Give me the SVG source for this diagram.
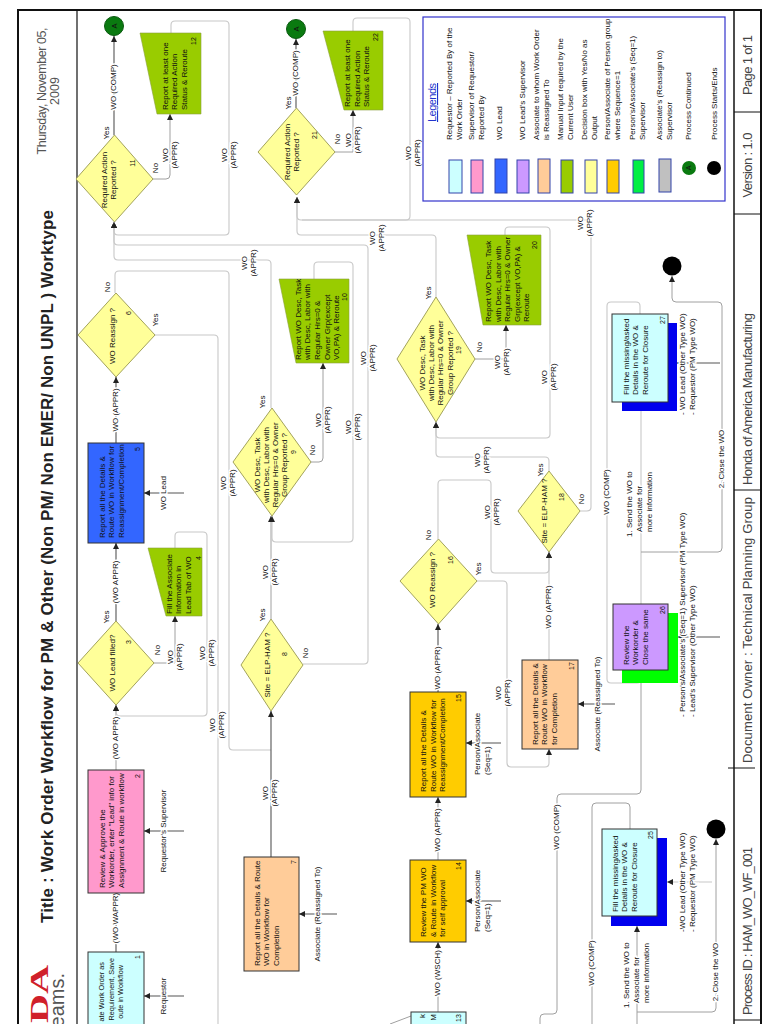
<svg xmlns="http://www.w3.org/2000/svg" width="768" height="1024" viewBox="0 0 768 1024">
<style>
text{font-family:"Liberation Sans",Arial,sans-serif;fill:#111}
.t{font-size:8px}
.t7{font-size:7.300px}
.m{text-anchor:middle}
.e{text-anchor:end}
.n{font-size:7px;text-anchor:middle}
.l{font-size:8px;text-anchor:middle;paint-order:stroke;stroke:#fff;stroke-width:3px}
.ls{font-size:8px;paint-order:stroke;stroke:#fff;stroke-width:3px}
.f{font-size:13px;fill:#444;text-anchor:middle}
.box{stroke:#333;stroke-width:1}
.dia{fill:#ffff99;stroke:#a3a35c;stroke-width:1}
.inp{fill:#99cc00;stroke:#8aa040;stroke-width:.6}
.c1,.c2,.c3{fill:none}
.c1{stroke:#555;stroke-width:1.1}
.c2{stroke:#a0a0a0;stroke-width:1}
.c3{stroke:#c8c8c8;stroke-width:1.1}
.ar{marker-end:url(#a)}
.sw{stroke:#3344aa;stroke-width:1}
</style>
<defs>
<marker id="a" markerUnits="userSpaceOnUse" markerWidth="6" markerHeight="6" refX="6" refY="3" orient="auto"><path d="M0 0L6 3L0 6Z" fill="#222"/></marker>
</defs>
<rect width="768" height="1024" fill="#fff"/>
<g id="frame" fill="none" stroke="#111">
<path d="M18 1024V10H761V1024" stroke-width="2"/>
<path d="M77 10V1024" stroke-width="1.2"/>
<path d="M734 10V1024" stroke-width="1.5"/>
<path d="M734 112H761M734 214H761M734 490H761M728 768H755M734 1020H761" stroke-width="1"/>
</g>
<g id="title">
<text x="53" y="923" transform="rotate(-90 53 923)" font-size="17" font-weight="bold" textLength="713" lengthAdjust="spacing" style="fill:#222">Title : Work Order Workflow for PM &amp; Other (Non PM/ Non EMER/ Non UNPL ) Worktype</text>
<text x="46" y="91" transform="rotate(-90 46 91)" class="m" font-size="12.5" style="fill:#555"><tspan x="46" textLength="127">Thursday, November 05,</tspan><tspan x="46" dy="13">2009</tspan></text>
<text x="48" y="1023" transform="rotate(-90 48 1023)" font-size="26" font-weight="bold" textLength="58" lengthAdjust="spacingAndGlyphs" style="fill:#d0202a;font-family:'Liberation Serif',serif">DA</text>
<text class="e" x="64" y="973" transform="rotate(-90 64 973)" font-size="20" style="fill:#555">eams.</text>
</g>
<g id="footer">
<text class="f" x="752" y="65" transform="rotate(-90 752 65)" textLength="60">Page 1 of 1</text>
<text class="f" x="752" y="165" transform="rotate(-90 752 165)" textLength="65">Version : 1.0</text>
<text class="f" x="752" y="399" transform="rotate(-90 752 399)" textLength="172">Honda of America Manufacturing</text>
<text class="f" x="752" y="630" transform="rotate(-90 752 630)" textLength="266">Document Owner : Technical Planning Group</text>
<text class="f" x="752" y="931" transform="rotate(-90 752 931)" textLength="168">Process ID : HAM_WO_WF_001</text>
</g>
<g id="connectors">
<path class="c1 ar" d="M116 952V893"/>
<path class="c2 ar" d="M116 770V705"/>
<path class="c1 ar" d="M116 621V543"/>
<path class="c1 ar" d="M116 443V377"/>
<path class="c1 ar" d="M114 135V36"/>
<path class="c2 ar" d="M153 179H166Q170 179 170 175V114"/>
<path class="c3 ar" d="M171 33V25Q171 21 175 21H225Q229 21 229 25V231Q229 235 225 235H118Q114 235 114 231V222"/>
<path class="c3 ar" d="M303 664H364Q368 664 368 660V249Q368 245 364 245H118Q114 245 114 241V222"/>
<path class="c3 ar" d="M271 408V264Q271 260 267 260H118Q114 260 114 256V222"/>
<path class="c3" d="M115 293V275Q115 271 119 271H225Q229 271 229 275V746Q229 750 233 750H271"/>
<path class="c3" d="M155 335H214Q218 335 218 339V1024"/>
<path class="c2 ar" d="M154 663H175V616"/>
<path class="c3 ar" d="M175 548V536Q175 532 179 532H203Q207 532 207 536V712Q207 716 203 716H120Q116 716 116 712V705"/>
<path class="c1 ar" d="M271 857V711"/>
<path class="c2 ar" d="M271 619V516"/>
<path class="c2 ar" d="M311 462H319Q323 462 323 458V363"/>
<path class="c3 ar" d="M314 279V266Q314 262 318 262H349Q353 262 353 266V538Q353 542 349 542H276Q272 542 272 538V516"/>
<path class="c1 ar" d="M296 108V39"/>
<path class="c2 ar" d="M335 152H353V110"/>
<path class="c3" d="M353 31V22Q353 18 357 18H406Q410 18 410 22V216Q410 220 406 220H302"/>
<path class="c3 ar" d="M580 511H587Q591 511 591 507V224Q591 220 587 220H301Q297 220 297 216V197"/>
<path class="c3 ar" d="M436 297V239Q436 235 432 235H301Q297 235 297 231V197"/>
<path class="c2 ar" d="M438 1012V942"/>
<path class="c2 ar" d="M438 860V797"/>
<path class="c1 ar" d="M438 692V624"/>
<path class="c3 ar" d="M477 581H503Q507 581 507 585V763Q507 767 511 767H545Q549 767 549 763V749"/>
<path class="c3 ar" d="M438 539V484Q438 480 442 480H487Q491 480 491 484V569Q491 573 495 573H545Q549 573 549 569V552"/>
<path class="c3 ar" d="M549 660V552"/>
<path class="c3 ar" d="M549 471V461Q549 457 545 457H440Q436 457 436 453V422"/>
<path class="c2 ar" d="M475 359H506V325"/>
<path class="c3 ar" d="M505 235V231Q505 227 509 227H546Q550 227 550 231V434Q550 438 546 438H440Q436 438 436 434V422"/>
<path class="c2 ar" d="M540 1024V1018Q540 1014 544 1014H553Q557 1014 557 1010V798Q557 794 561 794H637Q641 794 641 790V670"/>
<path class="c3 ar" d="M640 314V306Q640 302 636 302H611Q607 302 607 306V679Q607 683 611 683H637Q641 683 641 679V670"/>
<path class="c2" d="M630 829V807Q630 803 626 803H596Q592 803 592 807V1024"/>
<path class="c3 ar" d="M641 604V405"/>
<path class="c2 ar" d="M641 552H718Q722 552 722 548V306Q722 302 718 302H676Q672 302 672 298V276"/>
<path class="c2 ar" d="M637 1024V926"/>
<path class="c2 ar" d="M637 1012H712Q716 1012 716 1008V839"/>
<path class="c2" d="M390 1024L411 1016"/>
<path class="c1 ar" d="M184 996H144"/>
<path class="c1 ar" d="M184 831H144"/>
<path class="c1 ar" d="M184 493H144"/>
<path class="c1 ar" d="M337 914H299"/>
<path class="c1 ar" d="M501 901H466"/>
<path class="c1 ar" d="M501 743H466"/>
<path class="c1 ar" d="M615 704H578"/>
<path class="c1 ar" d="M720 637H678"/>
<path class="c1 ar" d="M720 363H677"/>
<path class="c3 ar" d="M712 882H667"/>

<g id="connector-labels">
<text class="l" x="118" y="918" transform="rotate(-90 118 918)">(WO WAPPR)</text>
<text class="l" x="118" y="738" transform="rotate(-90 118 738)">(WO APPR)</text>
<text class="l" x="118" y="582" transform="rotate(-90 118 582)">(WO APPR)</text>
<text class="l" x="118" y="410" transform="rotate(-90 118 410)">WO (APPR)</text>
<text class="l" x="116" y="87" transform="rotate(-90 116 87)">WO (COMP)</text>
<text class="l" x="298" y="73" transform="rotate(-90 298 73)">WO (COMP)</text>
<text class="l" x="440" y="973" transform="rotate(-90 440 973)">WO (WSCH)</text>
<text class="l" x="440" y="830" transform="rotate(-90 440 830)">WO (APPR)</text>
<text class="l" x="440" y="668" transform="rotate(-90 440 668)">WO (APPR)</text>
<text class="l" x="551" y="607" transform="rotate(-90 551 607)">WO (APPR)</text>
<text class="l" x="559" y="827" transform="rotate(-90 559 827)">WO (COMP)</text>
<text class="l" x="594" y="963" transform="rotate(-90 594 963)">WO (COMP)</text>
<text class="l" x="609" y="492" transform="rotate(-90 609 492)">WO (COMP)</text>
<text class="l" x="724" y="459" transform="rotate(-90 724 459)">2. Close the WO</text>
<text class="l" x="718" y="972" transform="rotate(-90 718 972)">2. Close the WO</text>
<text class="l" x="166" y="493" transform="rotate(-90 166 493)">WO Lead</text>
<text class="l" x="166" y="831" transform="rotate(-90 166 831)">Requestor's Supervisor</text>
<text class="l" x="166" y="996" transform="rotate(-90 166 996)">Requestor</text>
<text class="l" x="320" y="914" transform="rotate(-90 320 914)">Associate  (Reassigned To)</text>
<text class="l" x="600" y="704" transform="rotate(-90 600 704)">Associate  (Reassigned To)</text>

<text class="l" x="168" y="155" transform="rotate(-90 168 155)"><tspan x="168">WO</tspan><tspan x="168" dy="9">(APPR)</tspan></text>
<text class="l" x="227" y="155" transform="rotate(-90 227 155)"><tspan x="227">WO</tspan><tspan x="227" dy="9">(APPR)</tspan></text>
<text class="l" x="247" y="263" transform="rotate(-90 247 263)"><tspan x="247">WO</tspan><tspan x="247" dy="9">(APPR)</tspan></text>
<text class="l" x="351" y="140" transform="rotate(-90 351 140)"><tspan x="351">WO</tspan><tspan x="351" dy="9">(APPR)</tspan></text>
<text class="l" x="375" y="238" transform="rotate(-90 375 238)"><tspan x="375">WO</tspan><tspan x="375" dy="9">(APPR)</tspan></text>
<text class="l" x="411" y="153" transform="rotate(-90 411 153)"><tspan x="411">WO</tspan><tspan x="411" dy="9">(APPR)</tspan></text>
<text class="l" x="583" y="223" transform="rotate(-90 583 223)"><tspan x="583">WO</tspan><tspan x="583" dy="9">(APPR)</tspan></text>
<text class="l" x="173" y="657" transform="rotate(-90 173 657)"><tspan x="173">WO</tspan><tspan x="173" dy="9">(APPR)</tspan></text>
<text class="l" x="205" y="653" transform="rotate(-90 205 653)"><tspan x="205">WO</tspan><tspan x="205" dy="9">(APPR)</tspan></text>
<text class="l" x="226" y="483" transform="rotate(-90 226 483)"><tspan x="226">WO</tspan><tspan x="226" dy="9">(APPR)</tspan></text>
<text class="l" x="215" y="725" transform="rotate(-90 215 725)"><tspan x="215">WO</tspan><tspan x="215" dy="9">(APPR)</tspan></text>
<text class="l" x="268" y="793" transform="rotate(-90 268 793)"><tspan x="268">WO</tspan><tspan x="268" dy="9">(APPR)</tspan></text>
<text class="l" x="268" y="572" transform="rotate(-90 268 572)"><tspan x="268">WO</tspan><tspan x="268" dy="9">(APPR)</tspan></text>
<text class="l" x="321" y="420" transform="rotate(-90 321 420)"><tspan x="321">WO</tspan><tspan x="321" dy="9">(APPR)</tspan></text>
<text class="l" x="351" y="427" transform="rotate(-90 351 427)"><tspan x="351">WO</tspan><tspan x="351" dy="9">(APPR)</tspan></text>
<text class="l" x="366" y="358" transform="rotate(-90 366 358)"><tspan x="366">WO</tspan><tspan x="366" dy="9">(APPR)</tspan></text>
<text class="l" x="490" y="512" transform="rotate(-90 490 512)"><tspan x="490">WO</tspan><tspan x="490" dy="9">(APPR)</tspan></text>
<text class="l" x="480" y="460" transform="rotate(-90 480 460)"><tspan x="480">WO</tspan><tspan x="480" dy="9">(APPR)</tspan></text>
<text class="l" x="501" y="693" transform="rotate(-90 501 693)"><tspan x="501">WO</tspan><tspan x="501" dy="9">(APPR)</tspan></text>
<text class="l" x="500" y="362" transform="rotate(-90 500 362)"><tspan x="500">WO</tspan><tspan x="500" dy="9">(APPR)</tspan></text>
<text class="l" x="547" y="377" transform="rotate(-90 547 377)"><tspan x="547">WO</tspan><tspan x="547" dy="9">(APPR)</tspan></text>

<text class="ls" x="480" y="775" transform="rotate(-90 480 775)"><tspan x="480">Person/Associate</tspan><tspan x="480" dy="10">(Seq=1)</tspan></text>
<text class="ls" x="480" y="932" transform="rotate(-90 480 932)"><tspan x="480">Person/Associate</tspan><tspan x="480" dy="10">(Seq=1)</tspan></text>
<text class="ls" x="685" y="717" transform="rotate(-90 685 717)"><tspan x="685">- Person's/Associate's (Seq=1) Supervisor (PM Type WO)</tspan><tspan x="685" dy="10">- Lead's Supervisor (Other Type WO)</tspan></text>
<text class="ls" x="685" y="415" transform="rotate(-90 685 415)"><tspan x="685">- WO Lead (Other Type WO)</tspan><tspan x="685" dy="10">- Requestor (PM Type WO)</tspan></text>
<text class="ls" x="685" y="932" transform="rotate(-90 685 932)"><tspan x="685">-WO Lead (Other Type WO)</tspan><tspan x="685" dy="10">- Requestor (PM Type WO)</tspan></text>
<text class="ls" x="632" y="537" transform="rotate(-90 632 537)">1. Send the WO to</text>
<text class="ls" x="642" y="532" transform="rotate(-90 642 532)">Associate for</text>
<text class="ls" x="652" y="532" transform="rotate(-90 652 532)">more information</text>
<text class="ls" x="629" y="1008" transform="rotate(-90 629 1008)">1. Send the WO to</text>
<text class="ls" x="639" y="1003" transform="rotate(-90 639 1003)">Associate for</text>
<text class="ls" x="649" y="1003" transform="rotate(-90 649 1003)">more information</text>

<g class="yn">
<text class="t m" x="109" y="133" transform="rotate(-90 109 133)">Yes</text>
<text class="t m" x="158" y="168" transform="rotate(-90 158 168)">No</text>
<text class="t m" x="291" y="103" transform="rotate(-90 291 103)">Yes</text>
<text class="t m" x="340" y="139" transform="rotate(-90 340 139)">No</text>
<text class="t m" x="110" y="287" transform="rotate(-90 110 287)">No</text>
<text class="t m" x="158" y="320" transform="rotate(-90 158 320)">Yes</text>
<text class="t m" x="109" y="617" transform="rotate(-90 109 617)">Yes</text>
<text class="t m" x="160" y="650" transform="rotate(-90 160 650)">No</text>
<text class="t m" x="265" y="402" transform="rotate(-90 265 402)">Yes</text>
<text class="t m" x="315" y="450" transform="rotate(-90 315 450)">No</text>
<text class="t m" x="265" y="615" transform="rotate(-90 265 615)">Yes</text>
<text class="t m" x="308" y="653" transform="rotate(-90 308 653)">No</text>
<text class="t m" x="431" y="293" transform="rotate(-90 431 293)">Yes</text>
<text class="t m" x="482" y="347" transform="rotate(-90 482 347)">No</text>
<text class="t m" x="431" y="535" transform="rotate(-90 431 535)">No</text>
<text class="t m" x="481" y="569" transform="rotate(-90 481 569)">Yes</text>
<text class="t m" x="543" y="470" transform="rotate(-90 543 470)">Yes</text>
<text class="t m" x="584" y="499" transform="rotate(-90 584 499)">No</text>
</g>
</g>
</g>

<g id="node1"><rect class="box" x="88" y="952" width="56" height="80" fill="#ccffff"/>
<text class="t7 e" x="104" y="962" transform="rotate(-90 104 962)">ate Work Order as</text>
<text class="t7 e" x="114" y="958" transform="rotate(-90 114 958)">Requirement, Save</text>
<text class="t7 e" x="123" y="965" transform="rotate(-90 123 965)">oute in Workflow</text>
<text class="n" x="140" y="957" transform="rotate(-90 140 957)">1</text></g>
<g id="node2"><rect class="box" x="88" y="770" width="56" height="123" fill="#ff99cc"/>
<text class="t" x="104.500" y="888" transform="rotate(-90 104.500 888)"><tspan x="104.500">Review &amp; Approve the</tspan><tspan x="104.500" dy="9.500">Workorder, enter "Lead" info for</tspan><tspan x="104.500" dy="9.500">Assignment &amp; Route in workflow</tspan></text>
<text class="n" x="140" y="776" transform="rotate(-90 140 776)">2</text></g>
<g id="node3"><polygon class="dia" points="116,621 154,663 116,705 78,663"/>
<text class="t m" x="115" y="663" transform="rotate(-90 115 663)">WO Lead filled?</text>
<text class="n" x="131" y="642" transform="rotate(-90 131 642)">3</text></g>
<g id="node4"><polygon class="inp" points="148,548 202,548 202,616 166,616"/>
<text class="t" x="171.500" y="614" transform="rotate(-90 171.500 614)"><tspan x="171.500">Fill the Associate</tspan><tspan x="171.500" dy="9.500">Information in</tspan><tspan x="171.500" dy="9.500">Lead Tab of WO</tspan></text>
<text class="n" x="201" y="558" transform="rotate(-90 201 558)">4</text></g>
<g id="node5"><rect class="box" x="88" y="443" width="56" height="100" fill="#3366ff"/>
<text class="t" x="104.500" y="538" transform="rotate(-90 104.500 538)"><tspan x="104.500">Report all the Details &amp;</tspan><tspan x="104.500" dy="9.500">Route WO in Workflow for</tspan><tspan x="104.500" dy="9.500">Reassignment/Completion</tspan></text>
<text class="n" x="140" y="449" transform="rotate(-90 140 449)">5</text></g>
<g id="node6"><polygon class="dia" points="116,293 155,335 116,377 78,335"/>
<text class="t m" x="114.500" y="336" transform="rotate(-90 114.500 336)">WO Reassign ?</text>
<text class="n" x="131" y="313" transform="rotate(-90 131 313)">6</text></g>
<g id="node7"><rect class="box" x="244" y="857" width="55" height="114" fill="#ffcc99"/>
<text class="t" x="259.500" y="966" transform="rotate(-90 259.500 966)"><tspan x="259.500">Report all the Details &amp; Route</tspan><tspan x="259.500" dy="9.500">WO in Workflow for</tspan><tspan x="259.500" dy="9.500">Completion</tspan></text>
<text class="n" x="296" y="862" transform="rotate(-90 296 862)">7</text></g>
<g id="node8"><polygon class="dia" points="271,619 303,665 271,711 241,665"/>
<text class="t m" x="269.500" y="665" transform="rotate(-90 269.500 665)">Site = ELP-HAM ?</text>
<text class="n" x="287" y="654" transform="rotate(-90 287 654)">8</text></g>
<g id="node9"><polygon class="dia" points="272,408 311,462 272,516 233,462"/>
<text class="t m" x="259.500" y="465" transform="rotate(-90 259.500 465)"><tspan x="259.500">WO Desc, Task</tspan><tspan x="259.500" dy="9.200">with Desc, Labor with</tspan><tspan x="259.500" dy="9.200">Regular Hrs=0 &amp; Owner</tspan><tspan x="259.500" dy="9.200">Group Reported ?</tspan></text>
<text class="n" x="296" y="452" transform="rotate(-90 296 452)">9</text></g>
<g id="node10"><polygon class="inp" points="279,279 349,279 349,363 296,363"/>
<text class="t" x="300.500" y="360" transform="rotate(-90 300.500 360)"><tspan x="300.500">Report WO Desc, Task</tspan><tspan x="300.500" dy="9.700">with Desc, Labor with</tspan><tspan x="300.500" dy="9.700">Regular Hrs=0 &amp;</tspan><tspan x="300.500" dy="9.700">Owner Grp(except</tspan><tspan x="300.500" dy="9.700">VO,PA) &amp; Reroute</tspan></text>
<text class="n" x="347" y="297" transform="rotate(-90 347 297)">10</text></g>
<g id="node11"><polygon class="dia" points="114.500,135 153,179 114.500,222 76,179"/>
<text class="t m" x="106.500" y="180" transform="rotate(-90 106.500 180)"><tspan x="106.500">Required Action</tspan><tspan x="106.500" dy="9.500">Reported ?</tspan></text>
<text class="n" x="135" y="163" transform="rotate(-90 135 163)">11</text></g>
<g id="node12"><polygon class="inp" points="140,33 201,33 201,114 157,114"/>
<text class="t" x="167.500" y="110" transform="rotate(-90 167.500 110)"><tspan x="167.500">Report at least one</tspan><tspan x="167.500" dy="9.500">Required Action</tspan><tspan x="167.500" dy="9.500">Status &amp; Reroute</tspan></text>
<text class="n" x="196" y="41" transform="rotate(-90 196 41)">12</text></g>
<g id="node13"><rect class="box" x="411" y="1012" width="55" height="20" fill="#ccffff"/>
<text class="t e" x="425" y="1014" transform="rotate(-90 425 1014)">k</text>
<text class="t e" x="436" y="1014" transform="rotate(-90 436 1014)">M</text>
<text class="n" x="461" y="1018" transform="rotate(-90 461 1018)">13</text></g>
<g id="node14"><rect class="box" x="410" y="860" width="56" height="82" fill="#ffcc00"/>
<text class="t" x="426" y="937" transform="rotate(-90 426 937)"><tspan x="426">Review the PM WO</tspan><tspan x="426" dy="9.500">&amp; Route in Workflow</tspan><tspan x="426" dy="9.500">for self approval</tspan></text>
<text class="n" x="461" y="866" transform="rotate(-90 461 866)">14</text></g>
<g id="node15"><rect class="box" x="410" y="692" width="56" height="105" fill="#ffcc00"/>
<text class="t" x="426" y="792" transform="rotate(-90 426 792)"><tspan x="426">Report all the Details &amp;</tspan><tspan x="426" dy="9.500">Route WO in Workflow for</tspan><tspan x="426" dy="9.500">Reassignment/Completion</tspan></text>
<text class="n" x="461" y="698" transform="rotate(-90 461 698)">15</text></g>
<g id="node16"><polygon class="dia" points="438.500,539 477,581 438.500,624 400,581"/>
<text class="t m" x="435" y="580" transform="rotate(-90 435 580)">WO Reassign ?</text>
<text class="n" x="453" y="560" transform="rotate(-90 453 560)">16</text></g>
<g id="node17"><rect class="box" x="522" y="660" width="56" height="89" fill="#ffcc99"/>
<text class="t" x="537.500" y="745" transform="rotate(-90 537.500 745)"><tspan x="537.500">Report all the Details &amp;</tspan><tspan x="537.500" dy="9.500">Route WO in Workflow</tspan><tspan x="537.500" dy="9.500">for Completion</tspan></text>
<text class="n" x="574" y="666" transform="rotate(-90 574 666)">17</text></g>
<g id="node18"><polygon class="dia" points="549,471 580,511 549,552 518,511"/>
<text class="t m" x="546.500" y="511" transform="rotate(-90 546.500 511)">Site = ELP-HAM ?</text>
<text class="n" x="564" y="497" transform="rotate(-90 564 497)">18</text></g>
<g id="node19"><polygon class="dia" points="436,297 475,359 436,422 397,359"/>
<text class="t m" x="424.500" y="363" transform="rotate(-90 424.500 363)"><tspan x="424.500">WO Desc, Task</tspan><tspan x="424.500" dy="9.400">with Desc, Labor with</tspan><tspan x="424.500" dy="9.400">Regular Hrs=0 &amp; Owner</tspan><tspan x="424.500" dy="9.400">Group Reported ?</tspan></text>
<text class="n" x="461" y="350" transform="rotate(-90 461 350)">19</text></g>
<g id="node20"><polygon class="inp" points="467,235 541,235 541,325 483,325"/>
<text class="t" x="491" y="322" transform="rotate(-90 491 322)"><tspan x="491">Report WO Desc, Task</tspan><tspan x="491" dy="9.500">with Desc, Labor with</tspan><tspan x="491" dy="9.500">Regular Hrs=0 &amp; Owner</tspan><tspan x="491" dy="9.500">Grp(except VO,PA) &amp;</tspan><tspan x="491" dy="9.500">Reroute</tspan></text>
<text class="n" x="537" y="245" transform="rotate(-90 537 245)">20</text></g>
<g id="node21"><polygon class="dia" points="296.500,108 335,152 296.500,195 258,152"/>
<text class="t m" x="289.500" y="152" transform="rotate(-90 289.500 152)"><tspan x="289.500">Required Action</tspan><tspan x="289.500" dy="9.500">Reported ?</tspan></text>
<text class="n" x="317" y="135" transform="rotate(-90 317 135)">21</text></g>
<g id="node22"><polygon class="inp" points="323,31 383,31 383,110 344,110"/>
<text class="t" x="350" y="107" transform="rotate(-90 350 107)"><tspan x="350">Report at least one</tspan><tspan x="350" dy="9.500">Required Action</tspan><tspan x="350" dy="9.500">Status &amp; Reroute</tspan></text>
<text class="n" x="378" y="37" transform="rotate(-90 378 37)">22</text></g>
<g id="node25"><rect x="611" y="838" width="56" height="88" fill="#0000ee"/><rect class="box" x="602" y="829" width="55" height="87" fill="#ccffff"/>
<text class="t" x="617.500" y="912" transform="rotate(-90 617.500 912)"><tspan x="617.500">Fill the missing/asked</tspan><tspan x="617.500" dy="9.500">Details in the WO &amp;</tspan><tspan x="617.500" dy="9.500">Reroute for Closure</tspan></text>
<text class="n" x="653" y="835" transform="rotate(-90 653 835)">25</text></g>
<g id="node26"><rect x="622" y="613" width="56" height="70" fill="#00ff00"/><rect class="box" x="613" y="604" width="55" height="66" fill="#cc99ff"/>
<text class="t" x="628.500" y="665" transform="rotate(-90 628.500 665)"><tspan x="628.500">Review the</tspan><tspan x="628.500" dy="9.500">Workorder &amp;</tspan><tspan x="628.500" dy="9.500">Close the same</tspan></text>
<text class="n" x="665" y="610" transform="rotate(-90 665 610)">26</text></g>
<g id="node27"><rect x="622" y="323" width="55" height="88" fill="#0000ee"/><rect class="box" x="612" y="314" width="56" height="88" fill="#ccffff"/>
<text class="t" x="628.500" y="395" transform="rotate(-90 628.500 395)"><tspan x="628.500">Fill the missing/asked</tspan><tspan x="628.500" dy="9.500">Details in the WO &amp;</tspan><tspan x="628.500" dy="9.500">Reroute for Closure</tspan></text>
<text class="n" x="665" y="320" transform="rotate(-90 665 320)">27</text></g>
<g id="nodeA1"><circle cx="114" cy="26" r="9.500" fill="#0a7a10" stroke="#0a5a10"/><text class="n" x="116.500" y="26" transform="rotate(-90 116.500 26)" style="font-size:7.5px">A</text></g>
<g id="nodeA2"><circle cx="296" cy="29" r="9.500" fill="#0a7a10" stroke="#0a5a10"/><text class="n" x="298.500" y="29" transform="rotate(-90 298.500 29)" style="font-size:7.5px">A</text></g>
<g id="end1"><circle cx="716" cy="829" r="9.500" fill="#000"/></g>
<g id="end2"><circle cx="672" cy="266" r="9.500" fill="#000"/></g>

<g id="legend">
<rect x="423" y="17" width="302" height="184" fill="none" stroke="#3333cc" stroke-width="1.200"/>
<text x="436" y="122" transform="rotate(-90 436 122)" font-size="11" text-decoration="underline" style="fill:#2233cc" textLength="39">Legends</text>
<rect class="sw" x="449" y="160" width="13" height="33" fill="#ccffff"/>
<rect class="sw" x="471" y="160" width="12" height="33" fill="#ff99cc"/>
<rect class="sw" x="495" y="159" width="12" height="34" fill="#3366ff"/>
<rect class="sw" x="517" y="160" width="12" height="33" fill="#cc99ff"/>
<rect class="sw" x="538" y="159" width="12" height="34" fill="#ffcc99"/>
<rect class="sw" x="561" y="160" width="12" height="33" fill="#99cc00"/>
<rect class="sw" x="585" y="160" width="12" height="33" fill="#ffff99"/>
<rect class="sw" x="607" y="160" width="12" height="33" fill="#ffcc00"/>
<rect class="sw" x="633" y="160" width="11" height="33" fill="#00ee44"/>
<rect class="sw" x="659" y="159" width="12" height="33" fill="#c0c0c0"/>
<circle cx="689" cy="168" r="7" fill="#0a7a10"/><text class="n" x="691" y="168" transform="rotate(-90 691 168)">A</text>
<circle cx="714" cy="168" r="7" fill="#000"/>
<text class="t" x="452" y="140" transform="rotate(-90 452 140)"><tspan x="452">Requestor – Reported By of the</tspan><tspan x="452" dy="9.500">Work Order</tspan></text>
<text class="t" x="474" y="140" transform="rotate(-90 474 140)"><tspan x="474">Supervisor of Requestor/</tspan><tspan x="474" dy="9.500">Reported By</tspan></text>
<text class="t" x="502" y="140" transform="rotate(-90 502 140)">WO Lead</text>
<text class="t" x="525" y="140" transform="rotate(-90 525 140)">WO Lead's Supervisor</text>
<text class="t" x="539" y="140" transform="rotate(-90 539 140)"><tspan x="539">Associate to whom Work Order</tspan><tspan x="539" dy="10">is Reassigned To</tspan></text>
<text class="t" x="563" y="140" transform="rotate(-90 563 140)"><tspan x="563">Manual Input required by the</tspan><tspan x="563" dy="10">Current User</tspan></text>
<text class="t" x="587" y="140" transform="rotate(-90 587 140)"><tspan x="587">Decision box with Yes/No as</tspan><tspan x="587" dy="10">Output</tspan></text>
<text class="t" x="610" y="140" transform="rotate(-90 610 140)"><tspan x="610">Person/Associate of Person group</tspan><tspan x="610" dy="10">where Sequence=1</tspan></text>
<text class="t" x="635" y="140" transform="rotate(-90 635 140)"><tspan x="635">Person's/Associate's (Seq=1)</tspan><tspan x="635" dy="10">Supervisor</tspan></text>
<text class="t" x="662" y="140" transform="rotate(-90 662 140)"><tspan x="662">Associate's (Reassign to)</tspan><tspan x="662" dy="9.500">Supervisor</tspan></text>
<text class="t" x="691" y="140" transform="rotate(-90 691 140)">Process Continued</text>
<text class="t" x="717" y="140" transform="rotate(-90 717 140)">Process Starts/Ends</text>
</g>
</svg>
